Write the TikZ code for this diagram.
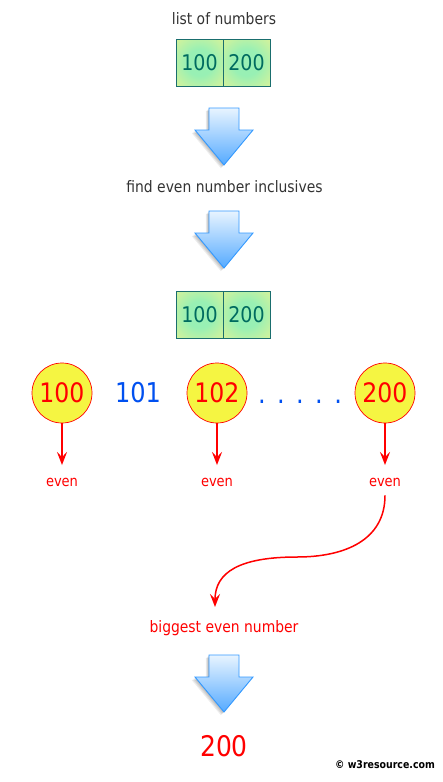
\documentclass[tikz,border=0pt]{standalone}
\usepackage{fontspec}
\setmainfont{DejaVu Sans}[FakeStretch=0.88]
\usetikzlibrary{arrows.meta,backgrounds}
\definecolor{tealtxt}{HTML}{006B5F}
\definecolor{boxline}{HTML}{1A6E6E}
\definecolor{boxin}{HTML}{98F0B4}
\definecolor{boxout}{HTML}{F4F48E}
\definecolor{circfill}{HTML}{F5F542}
\definecolor{myred}{HTML}{FF0000}
\definecolor{myblue}{HTML}{0050F0}
\definecolor{arrline}{HTML}{3399FF}
\definecolor{arrtop}{HTML}{E8F4FF}
\definecolor{arrbot}{HTML}{55AAFF}
\definecolor{graytxt}{HTML}{333333}
\pgfdeclareradialshading{boxrad}{\pgfpoint{0bp}{0bp}}{color(0bp)=(boxin); color(14bp)=(boxin); color(46bp)=(boxout); color(80bp)=(boxout)}
\newcommand\myfs[1]{\fontsize{#1}{#1}\selectfont}
\tikzset{
  cell/.style={rectangle, draw=boxline, line width=0.8pt, minimum width=47pt, minimum height=47pt,
    inner sep=0pt, shading=boxrad, text=tealtxt, font=\myfs{21.6}},
  numcirc/.style={circle, draw=myred, line width=0.7pt, fill=circfill, minimum size=60pt,
    inner sep=0pt, text=myred, font=\myfs{26.8}},
  caption/.style={text=graytxt, font=\myfs{15.8}, inner sep=0pt, anchor=base},
  evenlbl/.style={text=myred, font=\myfs{14.8}, inner sep=0pt, anchor=base},
  redarrow/.style={draw=myred, line width=1.5pt, -{Stealth[length=13pt,width=10pt,inset=5pt]}},
  arrowbody/.style={draw=arrline, line width=0.9pt, top color=arrtop, bottom color=arrbot},
  bigarrow/.pic={
    \foreach \s in {1,...,4}
      \fill[black, opacity=0.07, shift={(-0.8*\s,0.8*\s)}]
        (-15,0) -- (15,0) -- (15,22) -- (29,22) -- (0,57) -- (-29,22) -- (-15,22) -- cycle;
    \path[arrowbody] (-15,0) -- (15,0) -- (15,22) -- (29,22) -- (0,57) -- (-29,22) -- (-15,22) -- cycle;
  }
}
\begin{document}
\begin{tikzpicture}[x=1pt,y=-1pt]
\useasboundingbox[fill=white] (0,0) rectangle (443,782);

% title
\node[caption] (title) at (224,24.5) {list of numbers};

% first list box
\node[cell] (b1a) at (199.5,62.5) {100};
\node[cell] (b1b) at (246.5,62.5) {200};

\pic at (224,108) {bigarrow};

\node[caption] (find) at (224.5,192.5) {find even number inclusives};

\pic at (224,211) {bigarrow};

% second list box
\node[cell] (b2a) at (199.5,314.5) {100};
\node[cell] (b2b) at (246.5,314.5) {200};

\begin{scope}[on background layer]
  \foreach \s in {1,...,4} {
    \fill[black, opacity=0.07] ([shift={(-0.9*\s,0.9*\s)}]b1a.north west) rectangle ([shift={(-0.9*\s,0.9*\s)}]b1b.south east);
    \fill[black, opacity=0.07] ([shift={(-0.9*\s,0.9*\s)}]b2a.north west) rectangle ([shift={(-0.9*\s,0.9*\s)}]b2b.south east);
  }
\end{scope}

% number row
\node[numcirc] (c1) at (62,393) {100};
\node[text=myblue, font=\myfs{27.3}, inner sep=0pt] (n101) at (138,392.5) {101};
\node[numcirc] (c2) at (217,393) {102};
\node[text=myblue, font=\myfs{27.3}, inner sep=0pt, anchor=base] (dots) at (300,403)
  {.\hspace{11.4pt}.\hspace{11.4pt}.\hspace{11.4pt}.\hspace{11.4pt}.};
\node[numcirc] (c3) at (385,393) {200};

% even labels
\node[evenlbl] (e1) at (62,486) {even};
\node[evenlbl] (e2) at (217,486) {even};
\node[evenlbl] (e3) at (385,486) {even};

\draw[redarrow, shorten >=12.5pt] (c1.south) -- (e1.north);
\draw[redarrow, shorten >=12.5pt] (c2.south) -- (e2.north);
\draw[redarrow, shorten >=12.5pt] (c3.south) -- (e3.north);

% biggest
\node[evenlbl, font=\myfs{15.8}] (big) at (224,632) {biggest even number};

\draw[redarrow, shorten <=9pt, shorten >=13pt] (e3.south)
  .. controls (385,540) and (345,557) .. (297,557)
  .. controls (240,557) and (215,572) .. (215,620);

\pic at (224,655) {bigarrow};

\node[text=myred, font=\myfs{28.4}, inner sep=0pt, anchor=base] (result) at (224,756) {200};

\node[font=\bfseries\myfs{10.7}, text=black, inner sep=0pt] (copy) at (385,765) {© w3resource.com};
\end{tikzpicture}
\end{document}
